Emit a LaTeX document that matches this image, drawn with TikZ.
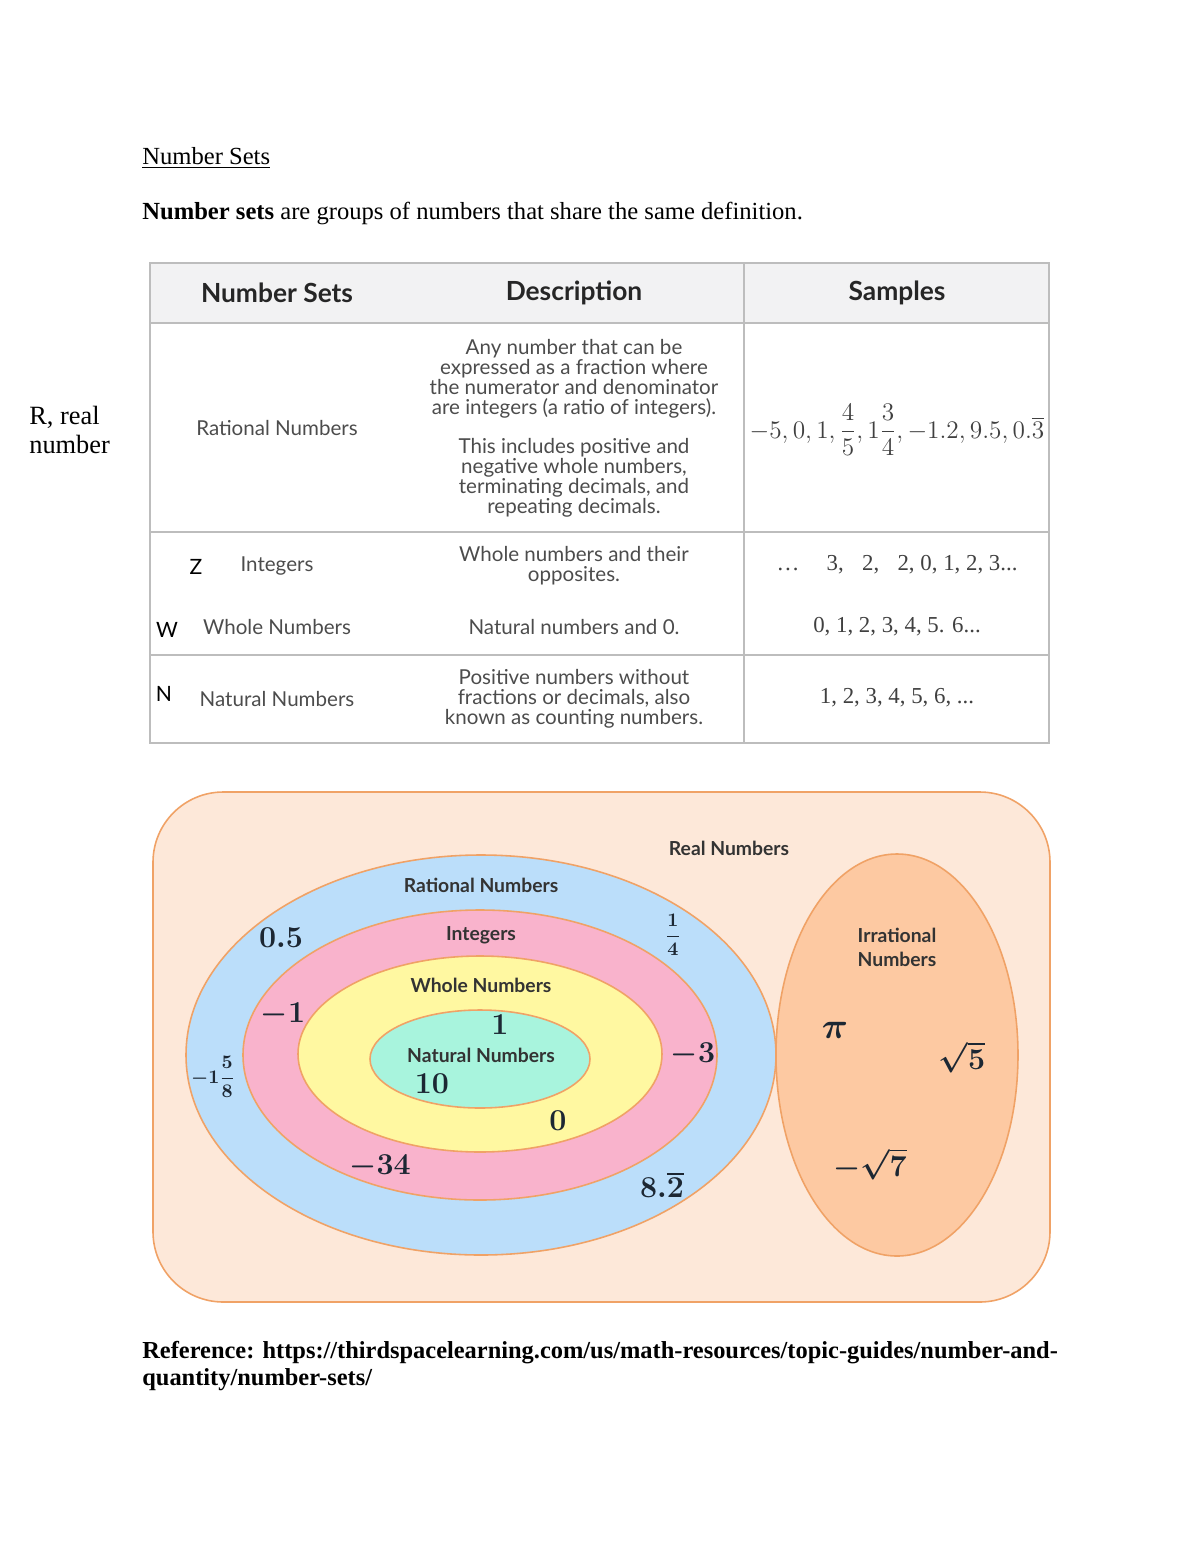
\documentclass[tikz,border=0pt]{standalone}
\usepackage{fontspec}
\usepackage{amsmath}
\setmainfont{Liberation Serif}
\newfontfamily\tabfont{Lato}
\usetikzlibrary{positioning}
\definecolor{gridgray}{HTML}{BDBDBD}
\definecolor{headfill}{HTML}{F2F2F3}
\definecolor{setline}{HTML}{F0A266}
\definecolor{realfill}{HTML}{FDE8D9}
\definecolor{ratfill}{HTML}{BBDEFA}
\definecolor{intfill}{HTML}{F9B3CC}
\definecolor{wholefill}{HTML}{FFF8A1}
\definecolor{natfill}{HTML}{A8F4DD}
\definecolor{irrfill}{HTML}{FDC9A2}
\definecolor{labelgray}{HTML}{333333}
\definecolor{numdark}{HTML}{1C2733}

\begin{document}
\begin{tikzpicture}[x=0.02cm,y=-0.02cm,
  bodytext/.style={font=\fontsize{14}{16}\selectfont, anchor=base west, inner sep=0},
  tabhead/.style={font=\tabfont\bfseries\fontsize{15}{17}\selectfont, text=black!85},
  tabtext/.style={font=\tabfont\fontsize{11.7}{11.35}\selectfont, text=black!70, align=center},
  sample/.style={font=\fontsize{13}{15}\selectfont, text=black!75},
  letter/.style={font=\tabfont\fontsize{12}{14}\selectfont},
  setname/.style={font=\tabfont\bfseries\fontsize{11}{13.6}\selectfont, text=labelgray, align=center},
  setnum/.style={font=\fontsize{18}{20}\selectfont\boldmath, text=numdark},
  smallnum/.style={font=\fontsize{11}{13}\selectfont\boldmath, text=numdark},
  setedge/.style={draw=setline, line width=0.9pt}]
\path[use as bounding box] (0,0) rectangle (1200,1553);

\node[bodytext] (title) at (142,164) {\underline{Number Sets}};
\node[bodytext] (intro) at (142,219) {\textbf{Number sets} are groups of numbers that share the same definition.};
\node[font=\fontsize{15}{17}\selectfont, align=left, anchor=west, inner sep=0] (real) at (29,430) {R, real\\number};

\fill[headfill] (150,263) rectangle (1049,323);
\draw[gridgray, line width=0.9pt] (150,263) rectangle (1049,743);
\draw[gridgray, line width=0.9pt] (744,263) -- (744,743);
\draw[gridgray, line width=0.9pt] (150,323) -- (1049,323);
\draw[gridgray, line width=0.9pt] (150,532) -- (1049,532);
\draw[gridgray, line width=0.9pt] (150,655) -- (1049,655);

\node[tabhead] (h1) at (277,293) {Number Sets};
\node[tabhead] (h2) at (574,293) {Description};
\node[tabhead] (h3) at (897,293) {Samples};

\node[tabtext] (ratname) at (277,428) {Rational Numbers};
\node[tabtext] (ratdesc) at (574,428) {Any number that can be\\expressed as a fraction where\\the numerator and denominator\\are integers (a ratio of integers).\\[11pt]This includes positive and\\negative whole numbers,\\terminating decimals, and\\repeating decimals.};
\node[sample, font=\fontsize{14}{16}\selectfont] (ratsamp) at (897,430) {$-5, 0, 1, \dfrac{4}{5}, 1\dfrac{3}{4}, -1.2, 9.5, 0.\overline{3}$};

\node[letter] (zlet) at (196,567) {Z};
\node[tabtext] (intname) at (277,566) {Integers};
\node[tabtext] (intdesc) at (574,566) {Whole numbers and their\\opposites.};
\node[sample] (intsamp) at (897,565) {\dots\hspace{1.2em}3,\hspace{0.8em}2,\hspace{0.8em}2, 0, 1, 2, 3...};

\node[letter] (wlet) at (167,630) {W};
\node[tabtext] (wholename) at (277,627) {Whole Numbers};
\node[tabtext] (wholedesc) at (574,627) {Natural numbers and 0.};
\node[sample] (wholesamp) at (897,627) {0, 1, 2, 3, 4, 5. 6...};

\node[letter] (nlet) at (164,694) {N};
\node[tabtext] (natname) at (277,699) {Natural Numbers};
\node[tabtext] (natdesc) at (574,699) {Positive numbers without\\fractions or decimals, also\\known as counting numbers.};
\node[sample] (natsamp) at (897,698) {1, 2, 3, 4, 5, 6, ...};

\draw[setedge, fill=realfill, rounded corners=40pt] (153,792) rectangle (1050,1302);
\draw[setedge, fill=ratfill] (481,1055) ellipse [x radius=295, y radius=200];
\draw[setedge, fill=intfill] (480,1055) ellipse [x radius=237, y radius=145];
\draw[setedge, fill=wholefill] (480,1054) ellipse [x radius=182, y radius=98];
\draw[setedge, fill=natfill] (480,1059) ellipse [x radius=110, y radius=49];
\draw[setedge, fill=irrfill] (897,1055) ellipse [x radius=121, y radius=201];

\node[setname] (realname) at (729,848) {Real Numbers};
\node[setname] (ratlabel) at (481,885) {Rational Numbers};
\node[setname] (intlabel) at (481,935) {Integers};
\node[setname] (wholelabel) at (481,985) {Whole Numbers};
\node[setname] (natlabel) at (481,1055) {Natural Numbers};
\node[setname] (irrlabel) at (897,947) {Irrational\\Numbers};

\node[setnum] (n05) at (281,938) {$0.5$};
\node[smallnum] (nquarter) at (673,935) {$\dfrac{1}{4}$};
\node[setnum] (nminus1) at (283,1015) {$-1$};
\node[smallnum] (nmixed) at (213,1077) {$-1\dfrac{5}{8}$};
\node[setnum] (none) at (500,1025) {$1$};
\node[setnum] (nten) at (432,1084) {$10$};
\node[setnum] (nzero) at (558,1121) {$0$};
\node[setnum] (nminus3) at (693,1055) {$-3$};
\node[setnum] (nminus34) at (380,1167) {$-34$};
\node[setnum] (nrep) at (662,1185) {$8.\overline{2}$};
\node[setnum, font=\fontsize{22}{24}\selectfont\boldmath] (npi) at (835,1030) {$\pi$};
\node[setnum] (nroot5) at (962,1057) {$\sqrt{5}$};
\node[setnum] (nroot7) at (870,1164) {$-\sqrt{7}$};

\node[bodytext, font=\bfseries\fontsize{13.9}{16}\selectfont] (ref1) at (142,1358) {Reference: https://thirdspacelearning.com/us/math-resources/topic-guides/number-and-};
\node[bodytext, font=\bfseries\fontsize{13.9}{16}\selectfont] (ref2) at (142,1385) {quantity/number-sets/};
\end{tikzpicture}
\end{document}
